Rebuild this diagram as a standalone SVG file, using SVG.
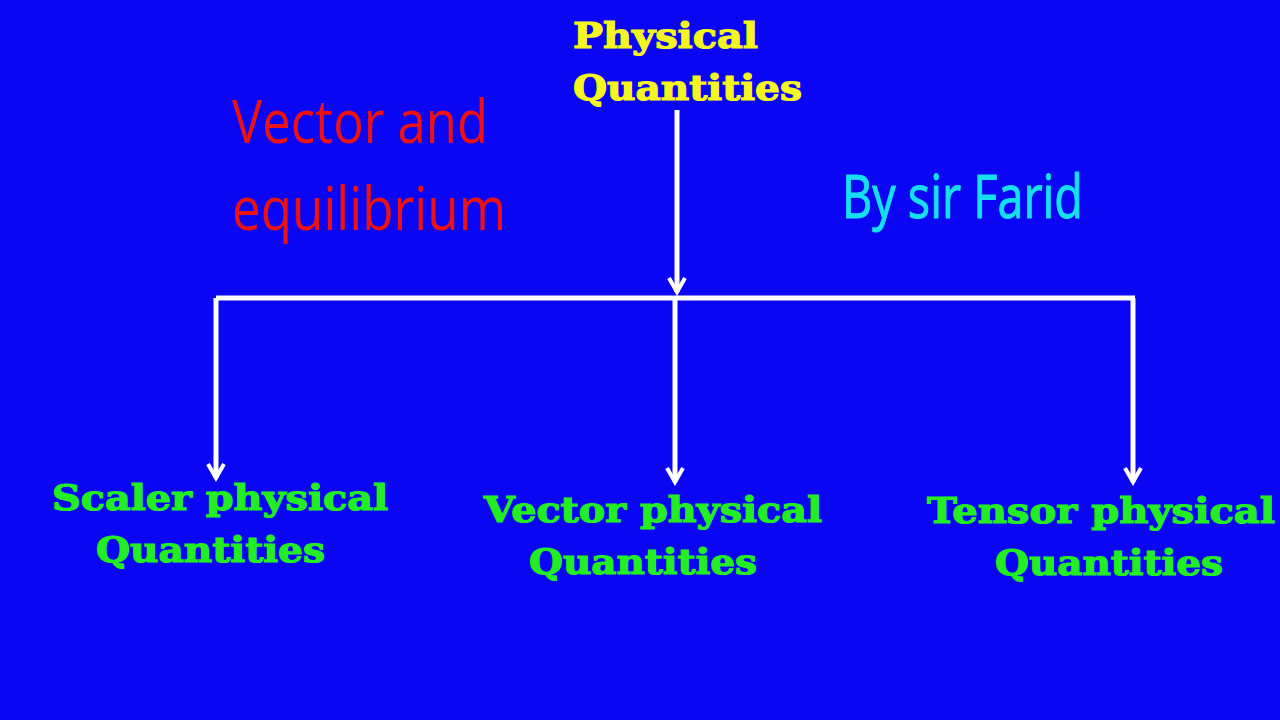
<svg xmlns="http://www.w3.org/2000/svg" width="1280" height="720" viewBox="0 0 1280 720">
<defs>
<marker id="ah" viewBox="0 0 10 10" refX="8" refY="5" markerWidth="4" markerHeight="4" orient="auto"><path d="M1,1 L8,5 L1,9" fill="none" stroke="#fff" stroke-width="2"/></marker>
<style>
.q{font-family:"DejaVu Serif",serif;font-weight:900;font-size:36px;stroke-width:1.2px}
.y{fill:#f5f520;stroke:#f5f520}
.g{fill:#22ee22;stroke:#22ee22}
.s{font-family:"Open Sans","Liberation Sans",sans-serif;font-size:60px}
.c{stroke:#fff;stroke-width:5;fill:none}
</style>
</defs>
<rect width="1280" height="720" fill="#0a05f2"/>
<g id="connectors">
<path class="c" d="M677,110 V292" marker-end="url(#ah)"/>
<path class="c" d="M216,298 H1135"/>
<path class="c" d="M216,298 V478" marker-end="url(#ah)"/>
<path class="c" d="M675,298 V482" marker-end="url(#ah)"/>
<path class="c" d="M1133,298 V482" marker-end="url(#ah)"/>
</g>
<g id="root"><text class="q y" lengthAdjust="spacingAndGlyphs"><tspan x="573" y="48" textLength="185" lengthAdjust="spacingAndGlyphs">Physical</tspan><tspan x="573" y="100" textLength="229" lengthAdjust="spacingAndGlyphs">Quantities</tspan></text></g>
<g id="title"><text class="s" fill="#ee1111"><tspan x="232" y="143" textLength="256" lengthAdjust="spacingAndGlyphs">Vector and</tspan><tspan x="232" y="230" textLength="274" lengthAdjust="spacingAndGlyphs">equilibrium</tspan></text></g>
<g id="author"><text class="s" fill="#15e0f0" x="842" y="218" textLength="241" lengthAdjust="spacingAndGlyphs" stroke="#15e0f0" stroke-width="1">By sir Farid</text></g>
<g id="scaler"><text class="q g"><tspan x="52" y="510" textLength="336" lengthAdjust="spacingAndGlyphs">Scaler physical</tspan><tspan x="96" y="562" textLength="229" lengthAdjust="spacingAndGlyphs">Quantities</tspan></text></g>
<g id="vector"><text class="q g"><tspan x="484" y="522" textLength="338" lengthAdjust="spacingAndGlyphs">Vector physical</tspan><tspan x="529" y="574" textLength="228" lengthAdjust="spacingAndGlyphs">Quantities</tspan></text></g>
<g id="tensor"><text class="q g"><tspan x="927" y="523" textLength="348" lengthAdjust="spacingAndGlyphs">Tensor physical</tspan><tspan x="995" y="575" textLength="228" lengthAdjust="spacingAndGlyphs">Quantities</tspan></text></g>
</svg>
